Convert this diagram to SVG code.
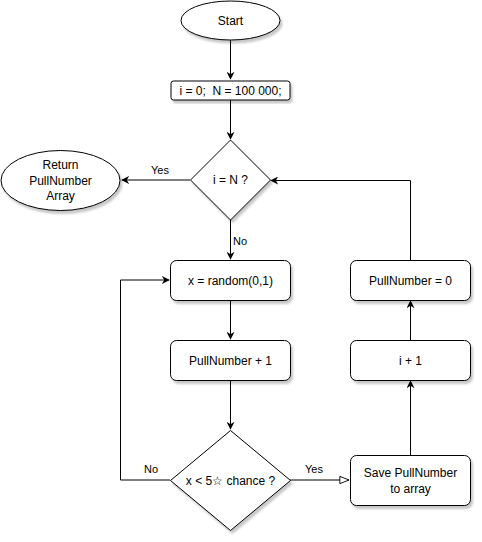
<svg xmlns="http://www.w3.org/2000/svg" width="482" height="542" viewBox="0 0 482 542">
<defs>
<filter id="sh" x="-20%" y="-20%" width="140%" height="140%">
<feDropShadow dx="2" dy="3" stdDeviation="1.2" flood-color="#000" flood-opacity="0.22"/>
</filter>
<marker id="arr" viewBox="0 0 10 10" refX="9" refY="5" markerWidth="8" markerHeight="8" orient="auto" markerUnits="userSpaceOnUse">
<path d="M0,0 L10,5 L0,10 L3,5 Z" fill="#000"/>
</marker>
<marker id="open" viewBox="0 0 12 10" refX="11" refY="5" markerWidth="11" markerHeight="10" orient="auto" markerUnits="userSpaceOnUse">
<path d="M1,1 L11,5 L1,9 Z" fill="#fff" stroke="#000" stroke-width="1"/>
</marker>
</defs>
<style>
.s{fill:#fff;stroke:#000;stroke-width:1;filter:url(#sh)}
.t{font-family:"Liberation Sans",Arial,sans-serif;font-size:12px;fill:#000;text-anchor:middle;dominant-baseline:central}
.l{font-family:"Liberation Sans",Arial,sans-serif;font-size:11px;fill:#000;text-anchor:middle;dominant-baseline:central}
.c{fill:none;stroke:#000;stroke-width:1}
</style>
<rect width="482" height="542" fill="#fff"/>
<g id="connectors">
<path class="c" d="M230.5,40 L230.5,79" marker-end="url(#arr)"/>
<path class="c" d="M230.5,100 L230.5,139" marker-end="url(#arr)"/>
<path class="c" d="M190,180 L122,180" marker-end="url(#arr)"/>
<path class="c" d="M230.5,220 L230.5,259" marker-end="url(#arr)"/>
<path class="c" d="M230.5,300 L230.5,339" marker-end="url(#arr)"/>
<path class="c" d="M230.5,380 L230.5,429" marker-end="url(#arr)"/>
<path class="c" d="M170,480 L120.5,480 L120.5,280 L169,280" marker-end="url(#arr)"/>
<path class="c" d="M290,480 L349,480" marker-end="url(#open)"/>
<path class="c" d="M410.5,455 L410.5,381" marker-end="url(#arr)"/>
<path class="c" d="M410.5,340 L410.5,301" marker-end="url(#arr)"/>
<path class="c" d="M410.5,260 L410.5,180.5 L271,180.5" marker-end="url(#arr)"/>
<rect x="149" y="163" width="22" height="13" fill="#fff"/>
<text class="l" x="160" y="170">Yes</text>
<rect x="231" y="234" width="18" height="13" fill="#fff"/>
<text class="l" x="240" y="241">No</text>
<rect x="142" y="462" width="18" height="13" fill="#fff"/>
<text class="l" x="151" y="469">No</text>
<rect x="303" y="462" width="22" height="13" fill="#fff"/>
<text class="l" x="314" y="469">Yes</text>
</g>
<g id="start">
<ellipse class="s" cx="230.5" cy="20.5" rx="49.5" ry="19.5"/>
<text class="t" x="230.5" y="20.5">Start</text>
</g>
<g id="init">
<rect class="s" x="171" y="81" width="119" height="19" rx="2.5"/>
<text class="t" x="230.5" y="90.5" xml:space="preserve">i = 0;  N = 100 000;</text>
</g>
<g id="check-n">
<path class="s" d="M230.5,140 L270.5,180 L230.5,220 L190.5,180 Z"/>
<text class="t" x="230.5" y="180">i = N ?</text>
</g>
<g id="return">
<ellipse class="s" cx="60.5" cy="180.5" rx="59.5" ry="30"/>
<text class="t" x="60.5" y="165">Return</text>
<text class="t" x="60.5" y="180.5">PullNumber</text>
<text class="t" x="60.5" y="196">Array</text>
</g>
<g id="random">
<rect class="s" x="170.5" y="260.5" width="120" height="40" rx="6"/>
<text class="t" x="230.5" y="280.5">x = random(0,1)</text>
</g>
<g id="pull-inc">
<rect class="s" x="170.5" y="340.5" width="120" height="40" rx="6"/>
<text class="t" x="230.5" y="360.5">PullNumber + 1</text>
</g>
<g id="chance">
<path class="s" d="M230.5,430.5 L290.5,480.5 L230.5,530.5 L170.5,480.5 Z"/>
<text class="t" x="230.5" y="480.5">x &lt; 5☆ chance ?</text>
</g>
<g id="save">
<rect class="s" x="350.5" y="455.5" width="120" height="50" rx="6"/>
<text class="t" x="410.5" y="473">Save PullNumber</text>
<text class="t" x="410.5" y="488.5">to array</text>
</g>
<g id="i-inc">
<rect class="s" x="350.5" y="340.5" width="120" height="40" rx="6"/>
<text class="t" x="410.5" y="360.5">i + 1</text>
</g>
<g id="pull-reset">
<rect class="s" x="350.5" y="260.5" width="120" height="40" rx="6"/>
<text class="t" x="410.5" y="280.5">PullNumber = 0</text>
</g>
</svg>
